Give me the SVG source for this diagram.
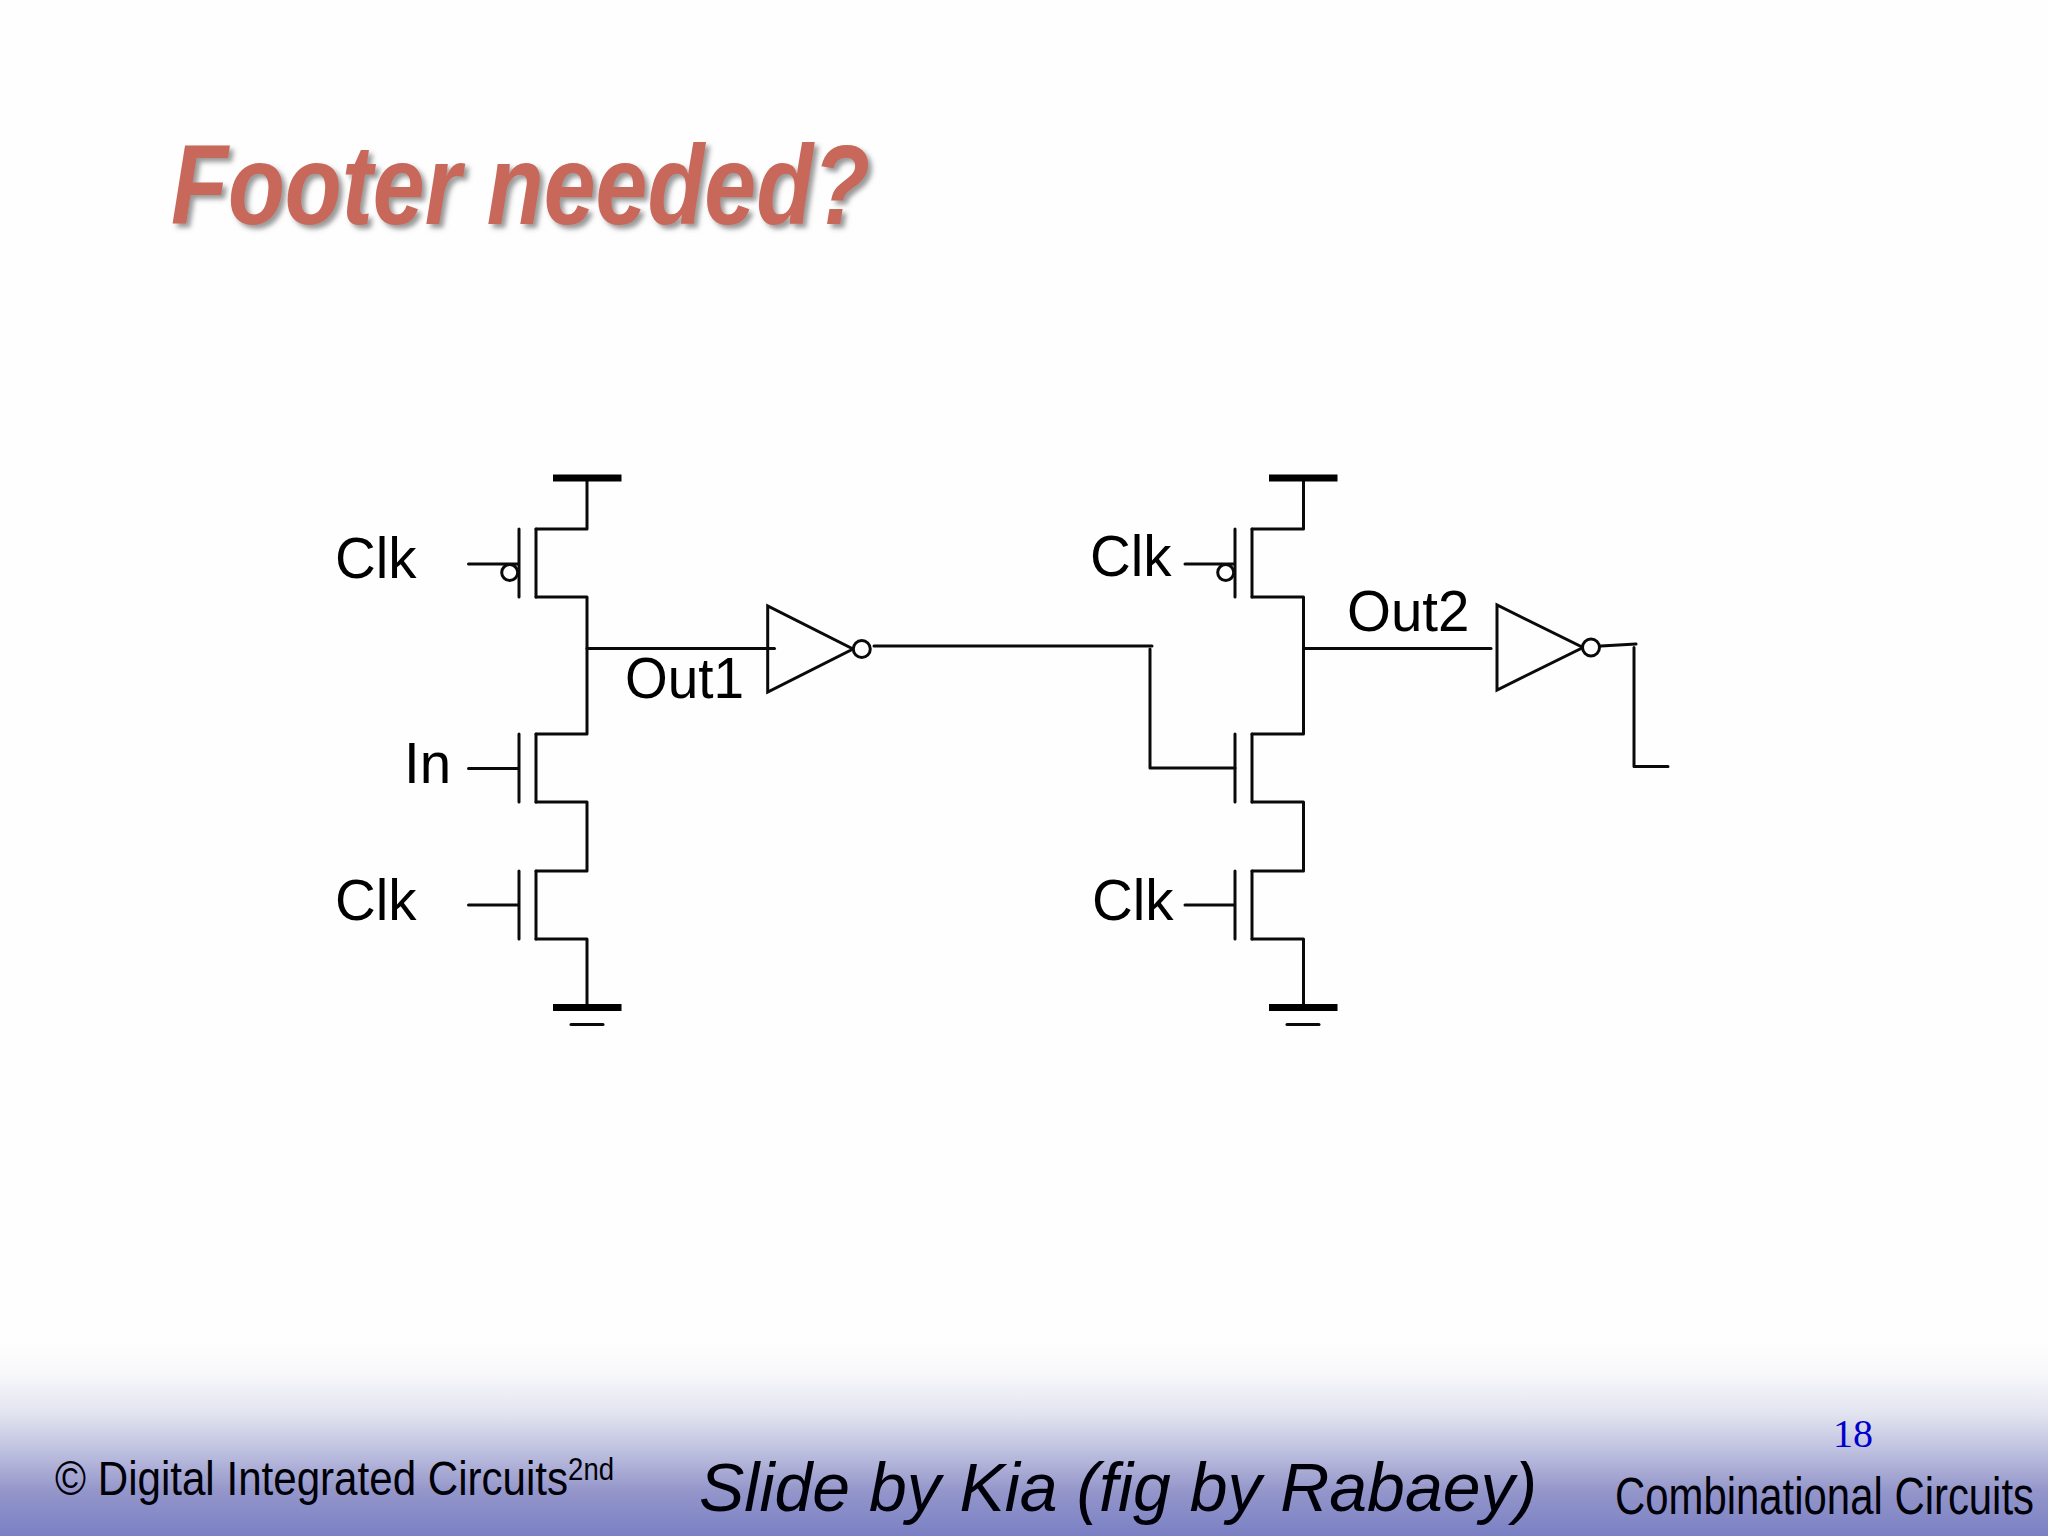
<svg xmlns="http://www.w3.org/2000/svg" width="2048" height="1536" viewBox="0 0 2048 1536">
<style>
.w{fill:none;stroke:#0a0a0a;stroke-width:3;stroke-linecap:round;stroke-linejoin:round}
.rail{fill:none;stroke:#000;stroke-width:7}
.b{fill:#fff;stroke:#0a0a0a;stroke-width:3}
.inv{fill:none;stroke:#0a0a0a;stroke-width:3;stroke-linejoin:miter}
.l{font-family:"Liberation Sans",Arial,sans-serif;font-size:56.5px;fill:#000}
.f{font-family:"Liberation Sans",Arial,sans-serif;fill:#000008}
</style>
<defs>
<linearGradient id="bar" x1="0" y1="1340" x2="0" y2="1536" gradientUnits="userSpaceOnUse">
<stop offset="0" stop-color="#fefefe"/><stop offset="0.17" stop-color="#f8f8fb"/><stop offset="0.38" stop-color="#e1e3ef"/><stop offset="0.56" stop-color="#bfc1e0"/><stop offset="0.77" stop-color="#9496ca"/><stop offset="1" stop-color="#7a80c4"/>
</linearGradient>
<filter id="sh" x="-5%" y="-20%" width="110%" height="140%"><feDropShadow dx="4" dy="4" stdDeviation="2.5" flood-color="#555" flood-opacity="0.6"/></filter>
</defs>
<rect id="background" width="2048" height="1536" fill="#fefefe"/>
<rect id="footer-band" y="1340" width="2048" height="196" fill="url(#bar)"/>
<g id="title"><text x="171" y="224" font-family="Liberation Sans,Arial,sans-serif" font-size="114" font-weight="bold" font-style="italic" fill="#c8685a" textLength="699" lengthAdjust="spacingAndGlyphs" filter="url(#sh)">Footer needed?</text></g>

<g id="connectors">
<path class="w" d="M587 478V529H536M536 597H587V734H536M536 802H587V871H536M536 939H587V1007"/>
<path class="w" d="M587 648.6H774.5"/>
<path class="w" d="M874 646H1152"/>
<path class="w" d="M1150 649V768H1235"/>
<path class="w" d="M1303.5 478V529H1252M1252 597H1303.5V734H1252M1252 802H1303.5V871H1252M1252 939H1303.5V1007"/>
<path class="w" d="M1303.5 648.6H1491"/>
<path class="w" d="M1601 646L1636 644"/>
<path class="w" d="M1634 647.5V766.5H1668"/>
</g>

<g id="vdd-left"><path class="rail" d="M553 478H621.5"/></g>
<g id="vdd-right"><path class="rail" d="M1269 478H1337.5"/></g>
<g id="gnd-left"><path class="rail" d="M553 1007.5H621.5"/><path class="w" d="M571 1024.5H603"/></g>
<g id="gnd-right"><path class="rail" d="M1269 1007.5H1337.5"/><path class="w" d="M1287 1024.5H1319"/></g>

<g id="pmos-left"><path class="w" d="M536 529V597M519 529V597M468.5 564H519"/><circle class="b" cx="509.7" cy="572.5" r="8"/></g>
<g id="nmos-in-left"><path class="w" d="M536 734V802M519 734V802M468.5 768.5H519"/></g>
<g id="nmos-clk-left"><path class="w" d="M536 871V939M519 871V939M468.5 905H519"/></g>
<g id="pmos-right"><path class="w" d="M1252 529V597M1235 529V597M1185 564H1235"/><circle class="b" cx="1225.7" cy="572.5" r="8"/></g>
<g id="nmos-in-right"><path class="w" d="M1252 734V802M1235 734V802"/></g>
<g id="nmos-clk-right"><path class="w" d="M1252 871V939M1235 871V939M1185 905H1235"/></g>

<g id="inverter-1"><path class="inv" d="M767.7 606V692L853 649Z"/><circle class="b" cx="861.8" cy="649" r="8.5"/></g>
<g id="inverter-2"><path class="inv" d="M1497 605V690L1583 647.5Z"/><circle class="b" cx="1591" cy="647.5" r="8.5"/></g>

<g id="labels">
<text class="l" x="335" y="578">Clk</text>
<text class="l" x="404" y="783">In</text>
<text class="l" x="335" y="919.5">Clk</text>
<text class="l" x="625" y="697.5" textLength="119" lengthAdjust="spacingAndGlyphs">Out1</text>
<text class="l" x="1090" y="575.5">Clk</text>
<text class="l" x="1092" y="919.5">Clk</text>
<text class="l" x="1347" y="631">Out2</text>
</g>

<g id="footer">
<text class="f" x="55" y="1495" font-size="49" textLength="559" lengthAdjust="spacingAndGlyphs">© Digital Integrated Circuits<tspan font-size="32" dy="-15">2nd</tspan></text>
<text class="f" x="699" y="1510.7" font-size="68" font-style="italic" textLength="838" lengthAdjust="spacingAndGlyphs">Slide by Kia (fig by Rabaey)</text>
<text x="1833" y="1446.7" font-family="Liberation Serif,Times New Roman,serif" font-size="40" fill="#0000cc" textLength="40" lengthAdjust="spacingAndGlyphs">18</text>
<text class="f" x="1615" y="1514" font-size="51" textLength="419" lengthAdjust="spacingAndGlyphs">Combinational Circuits</text>
</g>
</svg>
